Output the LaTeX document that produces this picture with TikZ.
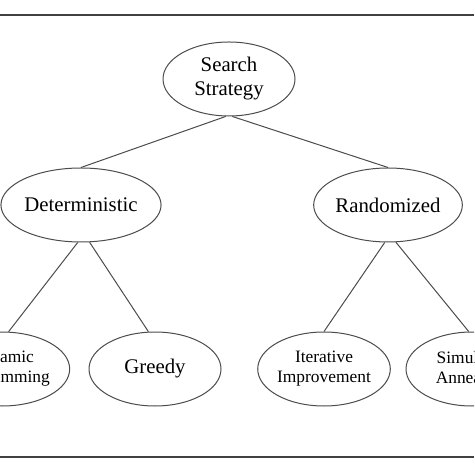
\documentclass[tikz,border=0pt]{standalone}
\usepackage{fontspec}
\setmainfont{Liberation Serif}
\usetikzlibrary{shapes.geometric}

\tikzset{
  leaf/.style={ellipse, draw=black!70, line width=0.5pt, minimum width=66pt,
    minimum height=37pt, inner sep=0pt, align=center, font=\fontsize{10.4}{12}\selectfont},
  small/.style={font=\fontsize{8.7}{10}\selectfont},
  edge/.style={draw=black!70, line width=0.5pt},
}

\begin{document}
\begin{tikzpicture}[x=0.5pt, y=-0.5pt]
  % Frame of the picture
  \useasboundingbox (0,0) rectangle (474,474);
  \clip (0,0) rectangle (474,474);
  \fill[white] (0,0) rectangle (474,474);

  % Border lines
  \draw[black!75, line width=1pt] (0,15) -- (474,15);
  \draw[black!75, line width=1pt] (0,457) -- (474,457);

  % Root
  \node[leaf, font=\fontsize{10.4}{12}\selectfont] (search) at (229,79) {Search\\Strategy};

  % Second level
  \node[leaf] (det) at (81,205) {Deterministic};
  \node[leaf] (rand) at (388,205) {Randomized};

  % Leaves
  \node[leaf, small] (dp) at (2,369) {Dynamic\\Programming};
  \node[leaf] (greedy) at (155,369) {Greedy};
  \node[leaf, small] (iter) at (324,369) {Iterative\\Improvement};
  \node[leaf, small] (sa) at (472,369) {Simulated\\Annealing};

  % Connectors
  \draw[edge] (search.265) -- (det.north);
  \draw[edge] (search.275) -- (rand.north);
  \draw[edge] (det.265) -- (dp.80);
  \draw[edge] (det.283) -- (greedy.100);
  \draw[edge] (rand.265) -- (iter.north);
  \draw[edge] (rand.282) -- (sa.95);
\end{tikzpicture}
\end{document}
